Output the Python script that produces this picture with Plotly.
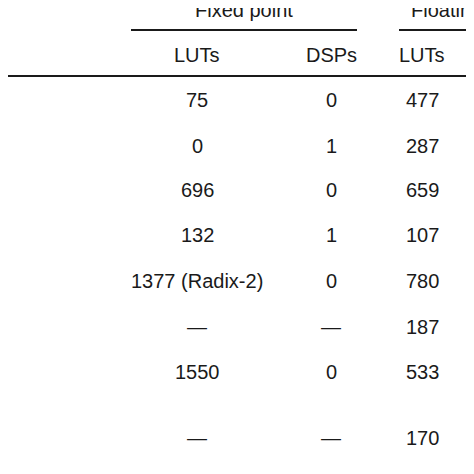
import plotly.graph_objects as go

row_labels = ["o", "", "cation", "", " 1 cycle", "25 cycles", "ean<br> 1 cycle", "ean<br>25 cycles"]
fixed_luts = ["75", "0", "696", "132", "1377 (Radix-2)", "—", "1550", "—"]
fixed_dsps = ["0", "1", "0", "1", "0", "—", "0", "—"]
float_luts = ["477", "287", "659", "107", "780", "187", "533", "170"]
row_y = [100, 146, 190, 235, 281, 327, 383, 449]

F = dict(family="Liberation Sans, Arial, sans-serif", size=20, color="#1a1a1a")
fig = go.Figure()
ann = []
def t(x, y, s, xa="center"):
    ann.append(dict(x=x, y=y, xref="x", yref="y", text=s, showarrow=False,
                    xanchor=xa, yanchor="middle", font=F, align="left"))
t(244, 10, "Fixed point")
t(409, 10, "Floating", "left")
t(0, 55, "or", "left")
t(197, 55, "LUTs")
t(331, 55, "DSPs")
t(422, 55, "LUTs")
for lab, a, b, c, y in zip(row_labels, fixed_luts, fixed_dsps, float_luts, row_y):
    if lab:
        t(0, y, lab, "left")
    yy = y - 11 if "<br>" in lab else y
    t(197, yy, a)
    t(331, yy, b)
    t(422, yy, c)

shapes = [
    dict(type="line", x0=131, x1=357, y0=30, y1=30, xref="x", yref="y", line=dict(color="#1a1a1a", width=2)),
    dict(type="line", x0=399, x1=490, y0=30, y1=30, xref="x", yref="y", line=dict(color="#1a1a1a", width=2)),
    dict(type="line", x0=0, x1=490, y0=76, y1=76, xref="x", yref="y", line=dict(color="#1a1a1a", width=2)),
]
fig.update_layout(width=474, height=474, margin=dict(l=0, r=0, t=0, b=0),
                  paper_bgcolor="white", plot_bgcolor="white",
                  annotations=ann, shapes=shapes, showlegend=False,
                  xaxis=dict(range=[8, 482], visible=False, fixedrange=True),
                  yaxis=dict(range=[482, 8], visible=False, fixedrange=True))
fig.write_html("out.html")
